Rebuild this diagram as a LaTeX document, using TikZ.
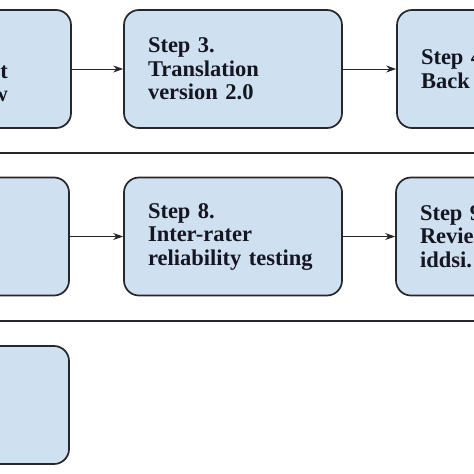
\documentclass[tikz,border=0pt]{standalone}
\usepackage{fontspec}
\setmainfont{Liberation Serif}
\definecolor{boxfill}{RGB}{207, 224, 241}
\definecolor{boxline}{RGB}{38, 38, 44}
\definecolor{steptext}{RGB}{22, 22, 34}
\usetikzlibrary{arrows.meta}

\begin{document}
\begin{tikzpicture}[x=1pt, y=-1pt,
	steptext/.style={font=\bfseries\fontsize{22.5}{23.5}\selectfont, text=steptext},
	stepbox/.style={steptext, draw=boxline, line width=1.7pt, fill=boxfill, rounded corners=15pt, minimum width=218pt, minimum height=118pt, text width=170pt, align=left, inner sep=0pt},
	flow/.style={line width=1pt, boxline, -{Stealth[length=10pt, width=7pt]}},
	rowline/.style={line width=1.8pt, boxline}]
	\useasboundingbox (0,0) rectangle (474,474);
	\clip (0,0) rectangle (474,474);
	% first row
	\node[stepbox] (s2) at (-38, 69) {};
	\node[stepbox] (s3) at (233, 69) {Step 3.\\Translation\\version 2.0};
	\node[stepbox] (s4) at (506, 69) {Step 4.\\Back};
	\node[steptext, anchor=base east, inner sep=0pt] (s2a) at (8, 78) {t};
	\node[steptext, anchor=base east, inner sep=0pt] (s2b) at (8, 101) {w};
	\draw[flow] (s2) -- (s3);
	\draw[flow] (s3) -- (s4);
	\draw[rowline] (-10, 153) -- (484, 153);
	% second row
	\node[stepbox] (s7) at (-40, 236.5) {};
	\node[stepbox] (s8) at (233, 236.5) {Step 8.\\Inter-rater\\reliability testing};
	\node[stepbox] (s9) at (505, 236.5) {Step 9\\Revie\\iddsi.};
	\draw[flow] (s7) -- (s8);
	\draw[flow] (s8) -- (s9);
	\draw[rowline] (-10, 321) -- (484, 321);
	% third row
	\node[stepbox] (s10) at (-40, 405) {};
\end{tikzpicture}
\end{document}
